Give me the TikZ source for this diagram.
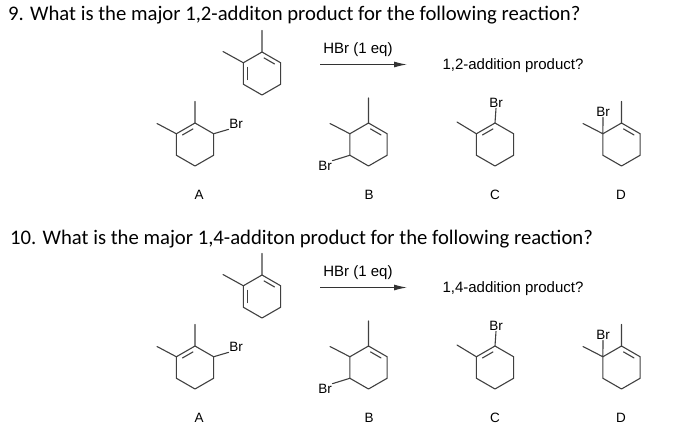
\documentclass[tikz,border=0pt]{standalone}
\usepackage{fontspec}
\setmainfont{Carlito}
\newfontfamily\chemf{Liberation Sans}
\usetikzlibrary{calc,arrows.meta}
\tikzset{bond/.style={line width=1.1pt,line cap=round,line join=round,black!75},
 lbl/.style={font=\chemf\fontsize{13.5}{14}\selectfont,inner sep=0.5pt},
 big/.style={font=\chemf\fontsize{15}{16}\selectfont,inner sep=0.5pt},
 q/.style={font=\fontsize{20.7}{22}\selectfont,anchor=west,inner sep=0}}
\newcommand{\hexr}[3]{%
 \coordinate (#1c) at (#2,#3);
 \foreach \k/\a in {1/90,2/30,3/-30,4/-90,5/-150,6/150}{\coordinate (#1\k) at ({#2+21.5*cos(\a)},{#3-21.5*sin(\a)});}
 \draw[bond] (#11)--(#12)--(#13)--(#14)--(#15)--(#16)--cycle;}
\newcommand{\dbl}[3]{%
 \draw[bond] ($($(#1#2)!0.22!(#1c)$)!0.14!($(#1#3)!0.22!(#1c)$)$) -- ($($(#1#3)!0.22!(#1c)$)!0.14!($(#1#2)!0.22!(#1c)$)$);}
\begin{document}
\begin{tikzpicture}[x=1pt,y=-1pt]
\useasboundingbox (0,0) rectangle (700,440);
\node[q] (q9) at (8,15) {9. What is the major 1,2-additon product for the following reaction?};
\node[q] (q10) at (10,239) {10. What is the major 1,4-additon product for the following reaction?};
\foreach \s/\n/\t in {0/a/2,223/b/4}{
 \begin{scope}[yshift=-\s]
 \hexr{R\n}{262}{73.5}\dbl{R\n}{1}{2}\dbl{R\n}{6}{5}
 \coordinate (Rm1\n) at (262,30.5); \coordinate (Rm2\n) at (223,51.5);
 \draw[bond] (R\n1)--(Rm1\n) (R\n6)--(Rm2\n);
 \coordinate (arS\n) at (320,64.5); \coordinate (arE\n) at (407,64.5);
 \draw[line width=1.1pt,black!80,-{Latex[length=13pt,width=6pt]}] (arS\n)--(arE\n);
 \node[big] (hbr\n) at (358,50) {HBr (1 eq)};
 \node[big] (prod\n) at (513,66) {1,\t-addition product?};
 \hexr{A\n}{195}{144.5}\dbl{A\n}{6}{1}
 \coordinate (Am1\n) at (195,101.5); \coordinate (Am2\n) at (157,123.5);
 \node[lbl] (Abr\n) at (236,124) {Br};
 \draw[bond] (A\n1)--(Am1\n) (A\n6)--(Am2\n) (A\n2)--(Abr\n.south west);
 \node[lbl] (Al\n) at (199,195) {A};
 \hexr{B\n}{368.5}{144.5}\dbl{B\n}{1}{2}
 \coordinate (Bm1\n) at (368.5,98); \coordinate (Bm2\n) at (330,123.5);
 \node[lbl] (Bbr\n) at (325,166) {Br};
 \draw[bond] (B\n1)--(Bm1\n) (B\n6)--(Bm2\n) (B\n5)--(Bbr\n.north east);
 \node[lbl] (Bl\n) at (369,195) {B};
 \hexr{C\n}{495}{144.5}\dbl{C\n}{6}{1}
 \coordinate (Cm\n) at (457,122);
 \node[lbl] (Cbr\n) at (496,103) {Br};
 \draw[bond] (C\n1)--(Cbr\n.south) (C\n6)--(Cm\n);
 \node[lbl] (Cl\n) at (495,195) {C};
 \hexr{D\n}{621.5}{144.5}\dbl{D\n}{1}{2}
 \coordinate (Dm1\n) at (621.5,101.5); \coordinate (Dm2\n) at (583,123.5);
 \node[lbl] (Dbr\n) at (603,112) {Br};
 \draw[bond] (D\n1)--(Dm1\n) (D\n6)--(Dm2\n) (D\n6)--(Dbr\n.south);
 \node[lbl] (Dl\n) at (621,195) {D};
 \end{scope}}
\end{tikzpicture}
\end{document}
